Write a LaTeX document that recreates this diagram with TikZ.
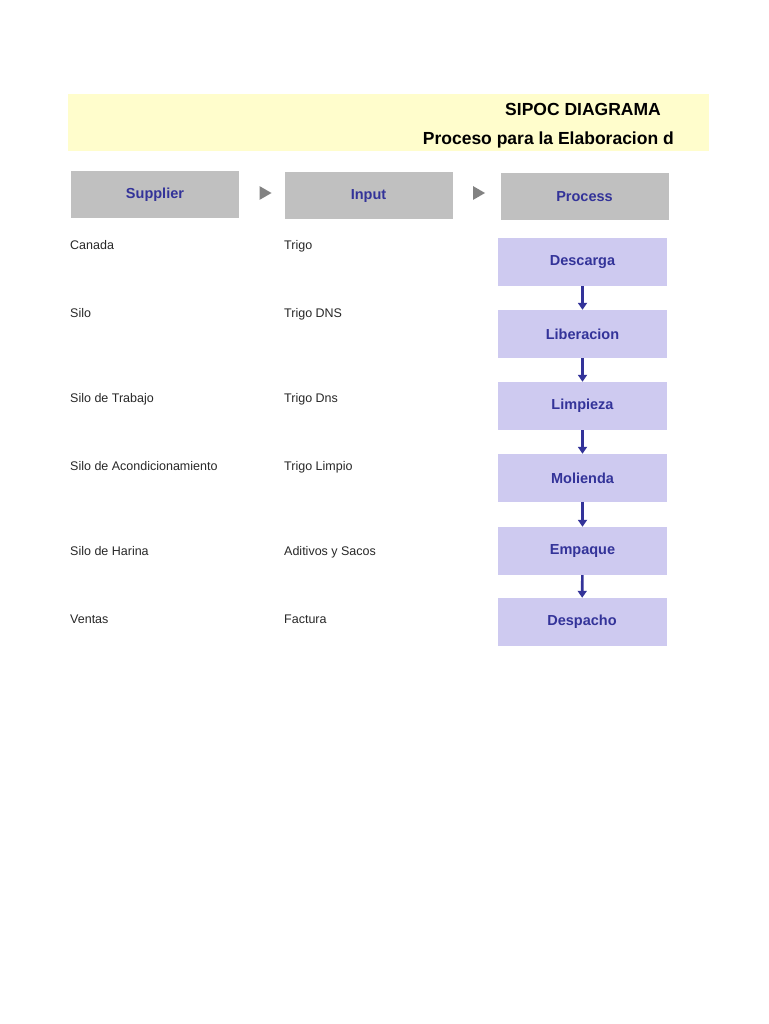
\documentclass[tikz,border=0pt]{standalone}
\usepackage{fontspec}
\setmainfont{Liberation Sans}
\usetikzlibrary{shapes.geometric,arrows.meta}
\definecolor{bandyellow}{RGB}{255,253,204}
\definecolor{headgray}{RGB}{192,192,192}
\definecolor{procfill}{RGB}{206,202,240}
\definecolor{navy}{RGB}{51,51,153}
\definecolor{txtgray}{RGB}{40,40,40}
\definecolor{trigray}{RGB}{130,130,130}
\begin{document}
\begin{tikzpicture}[x=1pt,y=-1pt,
  headbox/.style={fill=headgray,draw=none,minimum width=168pt,minimum height=47pt,inner sep=0pt,
    font=\fontsize{14.5}{16}\selectfont\bfseries,text=navy},
  procbox/.style={fill=procfill,draw=none,minimum width=169pt,minimum height=48pt,inner sep=0pt,
    font=\fontsize{14.5}{16}\selectfont\bfseries,text=navy},
  celltext/.style={anchor=base west,inner sep=0pt,font=\fontsize{12.5}{14}\selectfont,text=txtgray},
  titletext/.style={anchor=base east,inner sep=0pt,font=\fontsize{17.5}{20}\selectfont\bfseries,text=black},
  tri/.style={isosceles triangle,isosceles triangle apex angle=60,fill=trigray,draw=none,
    minimum height=12pt,inner sep=0pt},
  flow/.style={draw=navy,line width=2.6pt,-{Triangle[width=9pt,length=7pt]}}
]
\useasboundingbox (0,0) rectangle (768,1024);
\fill[white] (0,0) rectangle (768,1024);
% title band
\node[fill=bandyellow,draw=none,minimum width=641pt,minimum height=57pt,inner sep=0pt] (band) at (388.5,122.5) {};
\node[titletext] (t1) at (661,116) {SIPOC DIAGRAMA};
\node[titletext] (t2) at (674,145) {Proceso para la Elaboracion d};
% headers
\node[headbox] (hs) at (155,194.5) {Supplier};
\node[headbox] (hi) at (368.5,196) {Input};
\node[headbox] (hp) at (584.5,196.5) {Process};
\node[tri] (a1) at (263.5,193) {};
\node[tri] (a2) at (477,193) {};
% supplier column
\node[celltext] (s1) at (70,249) {Canada};
\node[celltext] (s2) at (70,317.5) {Silo};
\node[celltext] (s3) at (70,402.5) {Silo de Trabajo};
\node[celltext] (s4) at (70,470.5) {Silo de Acondicionamiento};
\node[celltext] (s5) at (70,555.5) {Silo de Harina};
\node[celltext] (s6) at (70,623.5) {Ventas};
% input column
\node[celltext] (i1) at (284,249) {Trigo};
\node[celltext] (i2) at (284,317.5) {Trigo DNS};
\node[celltext] (i3) at (284,402.5) {Trigo Dns};
\node[celltext] (i4) at (284,470.5) {Trigo Limpio};
\node[celltext] (i5) at (284,555.5) {Aditivos y Sacos};
\node[celltext] (i6) at (284,623.5) {Factura};
% process column
\node[procbox] (p1) at (582.5,262) {Descarga};
\node[procbox] (p2) at (582.5,334) {Liberacion};
\node[procbox] (p3) at (582.5,406) {Limpieza};
\node[procbox] (p4) at (582.5,478) {Molienda};
\node[procbox] (p5) at (582.5,551) {Empaque};
\node[procbox] (p6) at (582,622) {Despacho};
\draw[flow] (p1) -- (p2);
\draw[flow] (p2) -- (p3);
\draw[flow] (p3) -- (p4);
\draw[flow] (p4) -- (p5);
\draw[flow] (p5) -- (p6);
\end{tikzpicture}
\end{document}
